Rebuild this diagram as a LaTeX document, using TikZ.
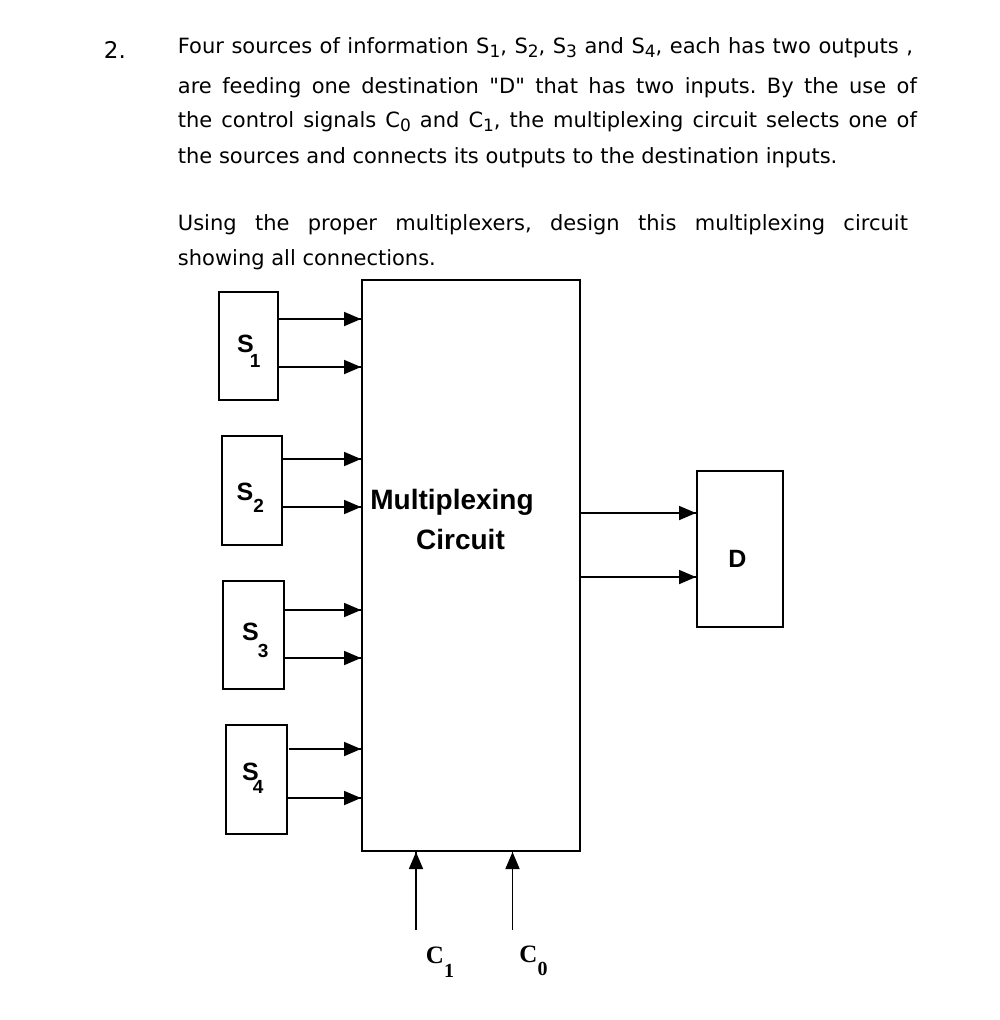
\documentclass[tikz,border=0pt]{standalone}
\usepackage{fontspec}
\setmainfont{DejaVu Sans}
\newfontfamily\arialfont{Liberation Sans}
\newfontfamily\timesfont{Liberation Serif}
\usetikzlibrary{arrows.meta,
                 decorations.markings}
\tikzset{->/.style = {decoration={markings, mark=at position 1 with {\arrow{Triangle[length=17pt,width=14pt]}}}, postaction={decorate}}}
\tikzset{box/.style = {draw, line width=2pt, inner sep=0pt}}
\newcommand{\tsub}[1]{\raisebox{-4pt}{\fontsize{17}{17}\selectfont #1}}
\newcommand{\lsub}[3]{\rlap{\kern#1pt\raisebox{-#2pt}{\fontsize{19}{19}\selectfont #3}}}
\frenchspacing

\begin{document}
\begin{tikzpicture}[x=1pt, y=-1pt, line width=1.8pt]
      \useasboundingbox (0,0) rectangle (1000,1020);
      % question text
      \begin{scope}[every node/.style={anchor=base west, inner sep=0pt, font=\fontsize{21}{21}\selectfont}]
      \node (num) at (103,58) {\fontsize{23}{23}\selectfont 2.};
      \node (l1) at (177,53) {\makebox[735pt][s]{Four sources of information S\tsub{1}, S\tsub{2}, S\tsub{3} and S\tsub{4}, each has two outputs ,}};
      \node (l2) at (177,93) {\makebox[739pt][s]{are feeding one destination \textquotedbl D\textquotedbl{} that has two inputs. By the use of}};
      \node (l3) at (177,127) {\makebox[739pt][s]{the control signals C\tsub{0} and C\tsub{1}, the multiplexing circuit selects one of}};
      \node (l4) at (177,163) {the sources and connects its outputs to the destination inputs.};
      \node (l5) at (177,230) {\makebox[730pt][s]{Using the proper multiplexers, design this multiplexing circuit}};
      \node (l6) at (177,265) {showing all connections.};
      \end{scope}
      % blocks
      \node [box, minimum width=218pt, minimum height=571pt] (mux) at (471,565.5) {};
      \node [box, minimum width=59pt, minimum height=108pt] (s1) at (248.5,345.5) {};
      \node [box, minimum width=60pt, minimum height=109pt] (s2) at (251.5,490.5) {};
      \node [box, minimum width=61pt, minimum height=108pt] (s3) at (253.5,635) {};
      \node [box, minimum width=61pt, minimum height=109pt] (s4) at (256,779.5) {};
      \node [box, minimum width=86pt, minimum height=156pt] (d) at (740,549) {};
      % labels
      \begin{scope}[every node/.style={anchor=base, inner sep=0pt, font=\arialfont\bfseries\fontsize{25}{25}\selectfont}]
      \node (s1lab) at (245.5,352) {S\lsub{-4}{15}{1}};
      \node (s2lab) at (245,500) {S\lsub{0}{12}{2}};
      \node (s3lab) at (250.5,640) {S\lsub{-1}{17}{3}};
      \node (s4lab) at (250.5,780) {S\lsub{-6}{13}{4}};
      \node (dlab) at (737.5,567) {D};
      \node [font=\arialfont\bfseries\fontsize{28}{28}\selectfont] (muxlab1) at (452,509) {Multiplexing};
      \node [font=\arialfont\bfseries\fontsize{28}{28}\selectfont] (muxlab2) at (460.5,549) {Circuit};
      \end{scope}
      \begin{scope}[every node/.style={anchor=base, inner sep=0pt, font=\timesfont\bfseries\fontsize{25}{25}\selectfont}]
      \node (c1lab) at (435,963) {C\rlap{\raisebox{-14pt}{\fontsize{20}{20}\selectfont 1}}};
      \node (c0lab) at (528.5,962) {C\rlap{\raisebox{-13pt}{\fontsize{20}{20}\selectfont 0}}};
      \end{scope}
      % source outputs
      \coordinate (s1a) at (278.5,319);
      \coordinate (s1b) at (278.5,367);
      \coordinate (s2a) at (281.5,459);
      \coordinate (s2b) at (281.5,507);
      \coordinate (s3a) at (284,610);
      \coordinate (s3b) at (284,658);
      \coordinate (s4a) at (289,749);
      \coordinate (s4b) at (286.5,798);
      \foreach \p in {s1a,s1b,s2a,s2b,s3a,s3b,s4a,s4b}
        \draw [->] (\p) -- (\p -| mux.west);
      % destination inputs
      \coordinate (da) at (580,513);
      \coordinate (db) at (580,577);
      \draw [->] (da) -- (da -| d.west);
      \draw [->] (db) -- (db -| d.west);
      % control lines
      \coordinate (c1) at (416,930);
      \coordinate (c0) at (512.5,930);
      \draw [->] (c1) -- (c1 |- mux.south);
      \draw [->] (c0) -- (c0 |- mux.south);
    \end{tikzpicture}
\end{document}
